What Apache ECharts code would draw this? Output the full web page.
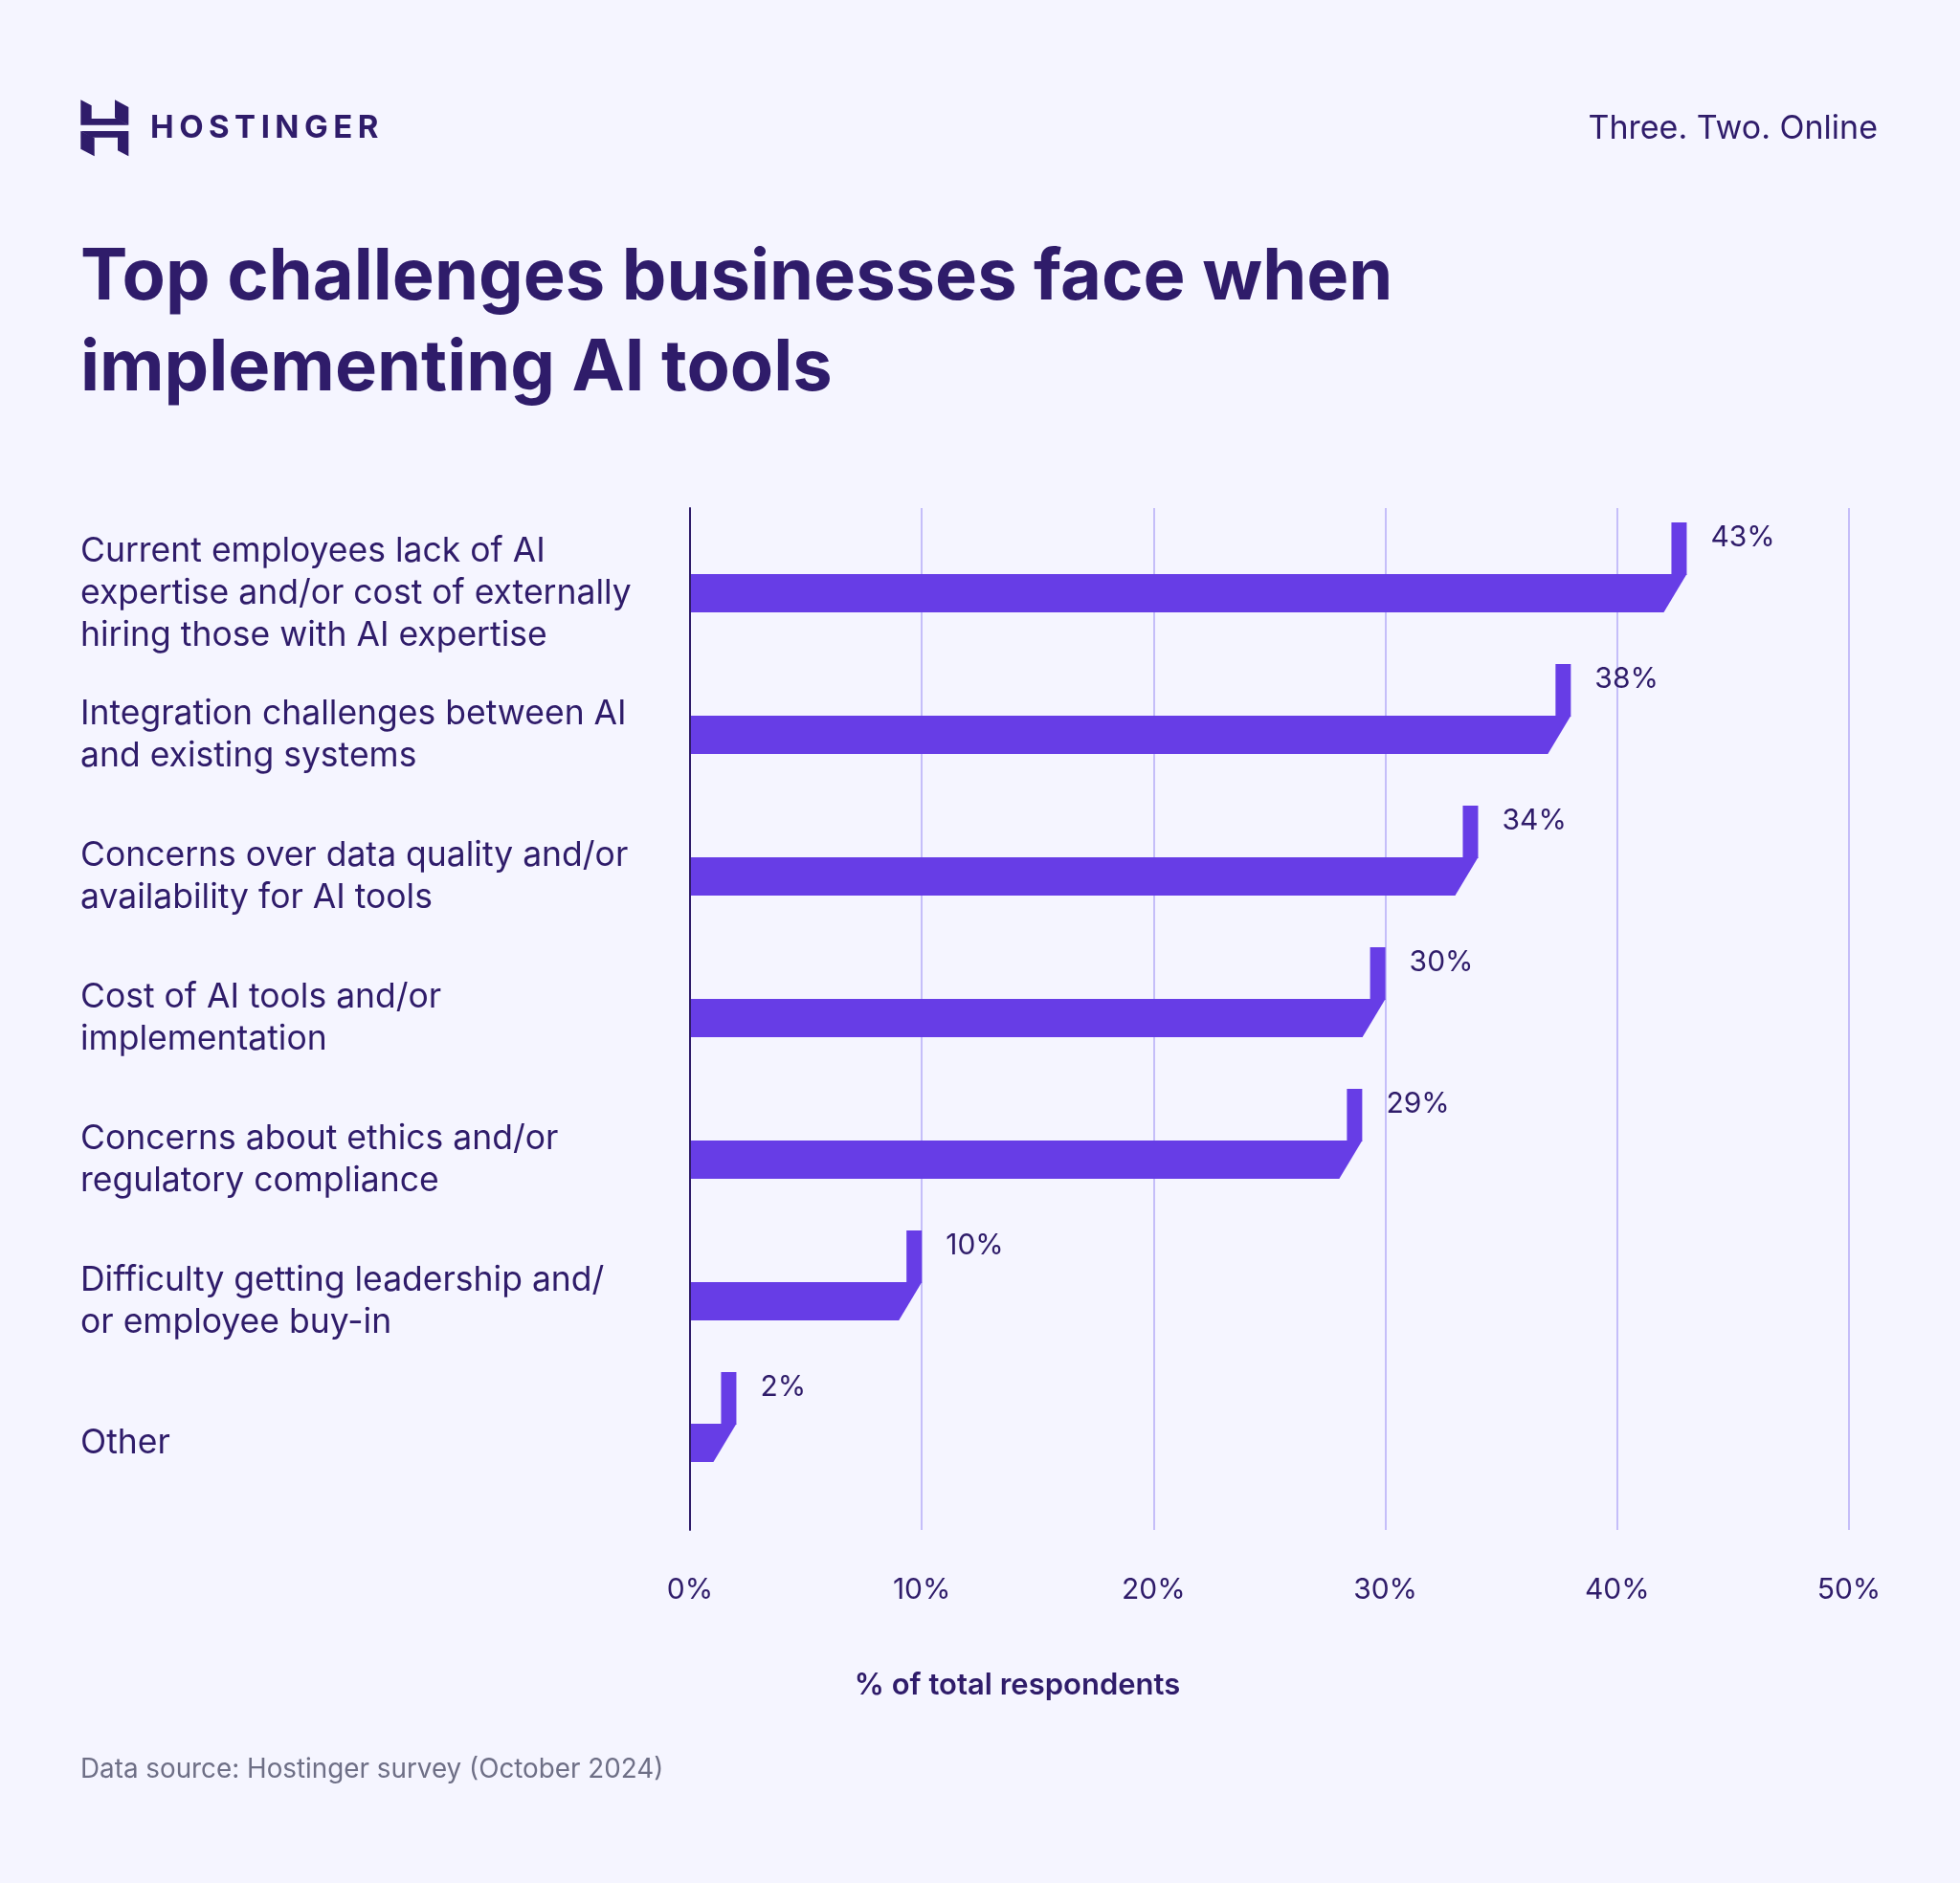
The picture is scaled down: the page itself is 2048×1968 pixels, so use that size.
<!DOCTYPE html>
<html>
<head>
<meta charset="utf-8">
<script src="https://cdn.jsdelivr.net/npm/echarts@6/dist/echarts.min.js"></script>
<style>
  html, body { margin: 0; padding: 0; background: #F5F5FF; }
  #chart { width: 2048px; height: 1968px; }
</style>
</head>
<body>
<div id="chart"></div>
<script>
const categories = [
  'Current employees lack of AI\nexpertise and/or cost of externally\nhiring those with AI expertise',
  'Integration challenges between AI\nand existing systems',
  'Concerns over data quality and/or\navailability for AI tools',
  'Cost of AI tools and/or\nimplementation',
  'Concerns about ethics and/or\nregulatory compliance',
  'Difficulty getting leadership and/\nor employee buy-in',
  'Other'
];
const values = [43, 38, 34, 30, 29, 10, 2];
const xMin = 0;
const xMax = 50;
const xInterval = 10;
const titleText = 'Top challenges businesses face when\nimplementing AI tools';
const axisName = '% of total respondents';
const sourceText = 'Data source: Hostinger survey (October 2024)';

const INK = '#2F1C6A';
const BAR = '#673DE6';
const FONT = 'Inter';

function renderItem(params, api) {
  const idx = api.value(1);
  const v = api.value(0);
  const end = api.coord([v, idx]);
  const start = api.coord([0, idx]);
  const xv = end[0], yc = end[1], x0 = start[0];
  return {
    type: 'group',
    children: [
      { type: 'polygon', shape: { points: [[x0, yc - 20], [xv, yc - 20], [xv - 24, yc + 20], [x0, yc + 20]] },
        style: { fill: BAR } },
      { type: 'rect', shape: { x: xv - 16, y: yc - 74, width: 16, height: 55 }, style: { fill: BAR } },
      { type: 'text', x: xv + 25, y: yc - 58,
        style: { text: v + '%', fontSize: 30, fontFamily: FONT, fill: INK, verticalAlign: 'middle', align: 'left' } }
    ]
  };
}

// logo helper (3x-zoom local coords -> page coords)
function lp(pts) { return pts.map(p => [p[0] / 3 + 80, p[1] / 3 + 100]); }

const chart = echarts.init(document.getElementById('chart'), null, { renderer: 'canvas' });
chart.setOption({
  backgroundColor: '#F5F5FF',
  animation: false,
  textStyle: { fontFamily: FONT },
  title: [{
    text: titleText, left: 79, top: 238,
    textStyle: { fontSize: 74, fontWeight: 'bold', lineHeight: 95, color: INK, fontFamily: FONT }
  }],
  grid: [
    { left: 721, right: 116, top: 531, bottom: 369 },
    { left: 721, right: 116, top: 546, bottom: 386 }
  ],
  xAxis: [
    { gridIndex: 0, type: 'value', min: xMin, max: xMax, interval: xInterval, z: 0,
      axisLine: { show: false }, axisTick: { show: false },
      splitLine: { show: true, lineStyle: { color: '#C5BEF9', width: 2 } },
      axisLabel: { formatter: '{value}%', fontSize: 30, color: INK, margin: 48, fontFamily: FONT } },
    { gridIndex: 1, type: 'value', min: xMin, max: xMax, show: false }
  ],
  yAxis: [
    { gridIndex: 0, type: 'value', min: 0, max: 1, z: 5,
      axisLine: { show: true, lineStyle: { color: INK, width: 2 } },
      axisTick: { show: false }, axisLabel: { show: false }, splitLine: { show: false } },
    { gridIndex: 1, type: 'category', inverse: true, data: categories,
      axisLine: { show: false }, axisTick: { show: false }, splitLine: { show: false },
      axisLabel: { align: 'left', margin: 637, fontSize: 35.5, lineHeight: 44, color: INK, fontFamily: FONT } }
  ],
  series: [{
    type: 'custom', xAxisIndex: 1, yAxisIndex: 1, z: 2,
    data: values.map((v, i) => [v, i]),
    renderItem: renderItem
  }],
  graphic: [
    { type: 'polygon', shape: { points: lp([[13,13],[47,31],[47,72],[128,72],[163,92],[13,92]]) }, style: { fill: INK } },
    { type: 'polygon', shape: { points: lp([[120,13],[163,36],[163,92],[120,70]]) }, style: { fill: INK } },
    { type: 'polygon', shape: { points: lp([[163,190],[129,172],[129,131],[48,131],[13,111],[163,111]]) }, style: { fill: INK } },
    { type: 'polygon', shape: { points: lp([[56,190],[13,167],[13,111],[56,133]]) }, style: { fill: INK } },
    { type: 'text', left: 157, top: 118,
      style: { text: 'H\u2006O\u2006S\u2006T\u2006I\u2006N\u2006G\u2006E\u2006R', fontSize: 33, fontWeight: 'bold', fontFamily: FONT, fill: INK } },
    { type: 'text', right: 86, top: 118,
      style: { text: 'Three. Two. Online', fontSize: 34, fontFamily: FONT, fill: INK } },
    { type: 'text', x: 1063, y: 1762,
      style: { text: axisName, fontSize: 31, fontWeight: 600, fontFamily: FONT, fill: INK, align: 'center', verticalAlign: 'middle' } },
    { type: 'text', left: 84, top: 1836,
      style: { text: sourceText, fontSize: 27.8, fontFamily: FONT, fill: '#6E6F86' } }
  ]
});
</script>
</body>
</html>
